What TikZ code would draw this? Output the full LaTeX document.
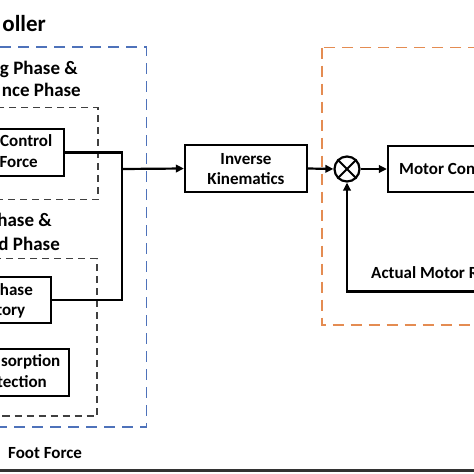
\documentclass[tikz,border=0pt]{standalone}
\usepackage{fontspec}
\setmainfont{Carlito}
\usetikzlibrary{arrows.meta}
\definecolor{dblue}{RGB}{78,114,186}
\definecolor{dorange}{RGB}{228,140,82}
\begin{document}
\begin{tikzpicture}[x=1pt,y=-1pt,
  box/.style={draw, line width=2.2pt, inner sep=0pt},
  lbl/.style={font=\bfseries\fontsize{17}{20}\selectfont, inner sep=0pt},
  hdg/.style={font=\bfseries\fontsize{19}{23}\selectfont, inner sep=0pt},
  ttl/.style={font=\bfseries\fontsize{23}{27}\selectfont, inner sep=0pt},
  conn/.style={line width=2.2pt},
  arr/.style={line width=2.2pt, -{Triangle[length=8pt,width=7.5pt]}},
  bluedash/.style={draw=dblue, line width=1.8pt, dash pattern=on 11pt off 7pt},
  orangedash/.style={draw=dorange, line width=1.8pt, dash pattern=on 11pt off 7pt},
  graydash/.style={draw=black!75, line width=1.5pt, dash pattern=on 7pt off 5pt}]
\useasboundingbox (0,0) rectangle (474,474);
\clip (0,0) rectangle (474,474);
% dashed groups
\draw[bluedash] (-20,47) rectangle (146.5,427);
\draw[orangedash] (322,47.5) rectangle (600,325);
\draw[graydash] (-20,107.5) rectangle (98,199.5);
\draw[graydash] (-20,258.5) rectangle (97,416);
% headings
\node[ttl, anchor=base east] (title) at (46,31) {oller};
\node[hdg, anchor=base east] (h1a) at (78,74) {g Phase \&};
\node[hdg, anchor=base east] (h1b) at (81,96) {nce Phase};
\node[hdg, anchor=base east] (h2a) at (52,226) {hase \&};
\node[hdg, anchor=base east] (h2b) at (60,250) {d Phase};
% boxes
\node[box, minimum width=124pt, minimum height=47pt] (b1) at (2,152.5) {};
\node[lbl, anchor=base east] (t1a) at (52.5,146.5) {Control};
\node[lbl, anchor=base east] (t1b) at (38,167.5) {Force};
\node[box, minimum width=110.7pt, minimum height=46pt] (b2) at (-4.65,300) {};
\node[lbl, anchor=base east] (t2a) at (33,295) {hase};
\node[lbl, anchor=base east] (t2b) at (25.5,315.5) {tory};
\node[box, minimum width=129pt, minimum height=47pt] (b3) at (4.5,372.5) {};
\node[lbl, anchor=base east] (t3a) at (60.5,366.5) {sorption};
\node[lbl, anchor=base east] (t3b) at (47,387) {tection};
\node[box, minimum width=122pt, minimum height=47pt] (ik) at (246,168.5) {};
\node[lbl, anchor=base] (ika) at (246,164) {Inverse};
\node[lbl, anchor=base] (ikb) at (246,184) {Kinematics};
\node[box, minimum width=172pt, minimum height=46pt] (mc) at (474,169) {};
\node[lbl, anchor=base west] (mct) at (399,174) {Motor Con};
\node[draw, circle, line width=2.2pt, minimum size=25pt, inner sep=0pt] (sum) at (347,169) {};
\draw[line width=2pt] (sum.north west) -- (sum.south east);
\draw[line width=2pt] (sum.north east) -- (sum.south west);
% connectors
\coordinate (jtop) at (122,152.5);
\coordinate (jbot) at (122,300);
\coordinate (jmid) at (122,169);
\draw[conn] (b1.east) -- (jtop) -- (jbot) -- (b2.east);
\draw[arr] (jmid) -- (ik.west);
\draw[arr] (ik.east) -- (sum.west);
\draw[arr] (sum.east) -- (mc.west);
\coordinate (fb) at (480,291.5);
\draw[arr] (fb) -- (fb -| sum.south) -- (sum.south);
\node[lbl, anchor=base west] (amr) at (371,278) {Actual Motor R};
\node[lbl, anchor=base west] (ff) at (8,458) {Foot Force};
% bottom rule
\draw[line width=3pt, black!80] (0,470.5) -- (474,470.5);
\end{tikzpicture}
\end{document}
